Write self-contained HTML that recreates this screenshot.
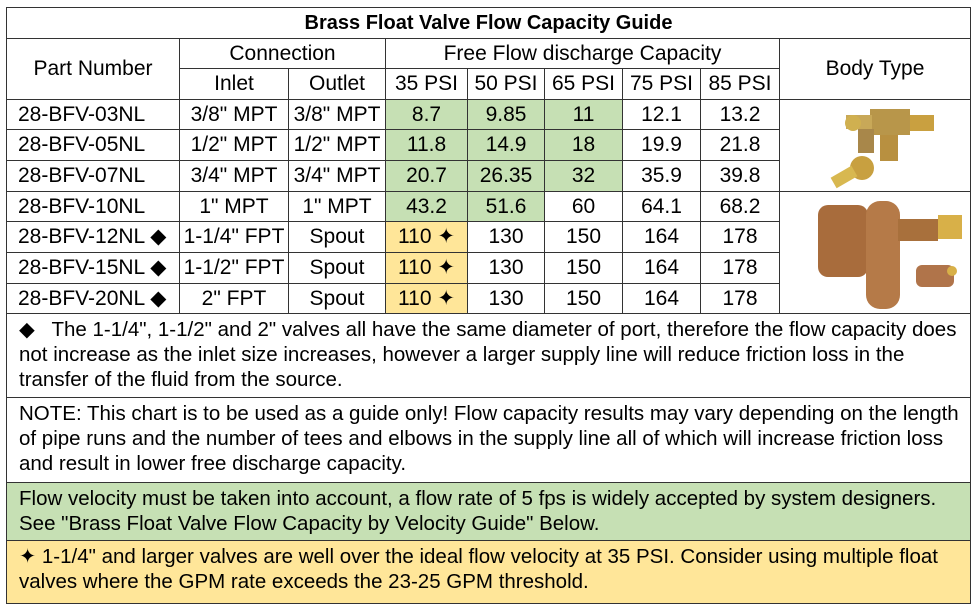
<!DOCTYPE html>
<html><head><meta charset="utf-8"><style>
html,body{margin:0;padding:0;background:#fff;width:975px;height:610px;overflow:hidden}
table{position:absolute;left:6px;top:7px;border-collapse:collapse;table-layout:fixed;font-family:"Liberation Sans",Arial,sans-serif;font-size:21px;color:#000}
td{border:1.5px solid #333;padding:0;text-align:center;white-space:nowrap;overflow:hidden;line-height:22px}
.g{background:#c6e0b4}.y{background:#ffe699}
.note{text-align:left;white-space:normal;padding:3px 4px 0 12px;line-height:25px;vertical-align:top;font-size:20.5px}
.l{text-align:left;padding-left:11px}
</style></head><body>
<table>
<colgroup><col style="width:173px"><col style="width:109px"><col style="width:97px"><col style="width:82px"><col style="width:77px"><col style="width:78px"><col style="width:78px"><col style="width:79px"><col style="width:190px"></colgroup>
<tr style="height:31px"><td colspan="9" style="font-weight:bold;font-size:20px">Brass Float Valve Flow Capacity Guide</td></tr>
<tr style="height:30px"><td rowspan="2">Part Number</td><td colspan="2">Connection</td><td colspan="5">Free Flow discharge Capacity</td><td rowspan="2">Body Type</td></tr>
<tr style="height:31px"><td>Inlet</td><td>Outlet</td><td>35 PSI</td><td>50 PSI</td><td>65 PSI</td><td>75 PSI</td><td>85 PSI</td></tr>
<tr style="height:30px"><td class="l">28-BFV-03NL</td><td>3/8" MPT</td><td>3/8" MPT</td><td class="g">8.7</td><td class="g">9.85</td><td class="g">11</td><td>12.1</td><td>13.2</td>
<td rowspan="3" style="position:relative"><svg width="190" height="90" viewBox="0 0 190 90" style="display:block">
<rect x="90" y="8" width="40" height="26" fill="#b8964a"/><rect x="130" y="14" width="24" height="16" fill="#c9a040"/><rect x="66" y="14" width="26" height="14" fill="#c8a858"/>
<rect x="100" y="34" width="18" height="26" fill="#b89040"/><rect x="78" y="28" width="16" height="24" fill="#a8874a"/>
<circle cx="73" cy="22" r="8" fill="#d0b050"/><circle cx="82" cy="67" r="12" fill="#c8a040"/><rect x="52" y="70" width="24" height="12" fill="#d8b850" transform="rotate(-30 64 76)"/></svg></td></tr>
<tr style="height:31px"><td class="l">28-BFV-05NL</td><td>1/2" MPT</td><td>1/2" MPT</td><td class="g">11.8</td><td class="g">14.9</td><td class="g">18</td><td>19.9</td><td>21.8</td></tr>
<tr style="height:31px"><td class="l">28-BFV-07NL</td><td>3/4" MPT</td><td>3/4" MPT</td><td class="g">20.7</td><td class="g">26.35</td><td class="g">32</td><td>35.9</td><td>39.8</td></tr>
<tr style="height:30px"><td class="l">28-BFV-10NL</td><td>1" MPT</td><td>1" MPT</td><td class="g">43.2</td><td class="g">51.6</td><td>60</td><td>64.1</td><td>68.2</td>
<td rowspan="4"><svg width="190" height="120" viewBox="0 0 190 120" style="display:block">
<rect x="38" y="12" width="50" height="72" rx="10" fill="#a86c3c"/><rect x="86" y="8" width="34" height="108" rx="14" fill="#b57a48"/>
<rect x="118" y="26" width="40" height="22" fill="#a8703c"/><rect x="158" y="22" width="24" height="24" fill="#d8b048"/>
<rect x="136" y="72" width="38" height="22" rx="6" fill="#b0744a"/><circle cx="172" cy="78" r="5" fill="#d8b048"/></svg></td></tr>
<tr style="height:31px"><td class="l">28-BFV-12NL ◆</td><td>1-1/4" FPT</td><td>Spout</td><td class="y">110 ✦</td><td>130</td><td>150</td><td>164</td><td>178</td></tr>
<tr style="height:31px"><td class="l">28-BFV-15NL ◆</td><td>1-1/2" FPT</td><td>Spout</td><td class="y">110 ✦</td><td>130</td><td>150</td><td>164</td><td>178</td></tr>
<tr style="height:30px"><td class="l">28-BFV-20NL ◆</td><td>2" FPT</td><td>Spout</td><td class="y">110 ✦</td><td>130</td><td>150</td><td>164</td><td>178</td></tr>
<tr style="height:84px"><td colspan="9" class="note">◆&nbsp;&nbsp; The 1-1/4", 1-1/2" and 2" valves all have the same diameter of port, therefore the flow capacity does not increase as the inlet size increases, however a larger supply line will reduce friction loss in the transfer of the fluid from the source.</td></tr>
<tr style="height:85px"><td colspan="9" class="note">NOTE: This chart is to be used as a guide only! Flow capacity results may vary depending on the length of pipe runs and the number of tees and elbows in the supply line all of which will increase friction loss and result in lower free discharge capacity.</td></tr>
<tr style="height:58px"><td colspan="9" class="note g">Flow velocity must be taken into account, a flow rate of 5 fps is widely accepted by system designers. See "Brass Float Valve Flow Capacity by Velocity Guide" Below.</td></tr>
<tr style="height:63px"><td colspan="9" class="note y">✦ 1-1/4" and larger valves are well over the ideal flow velocity at 35 PSI. Consider using multiple float valves where the GPM rate exceeds the 23-25 GPM threshold.</td></tr>
</table>
</body></html>
